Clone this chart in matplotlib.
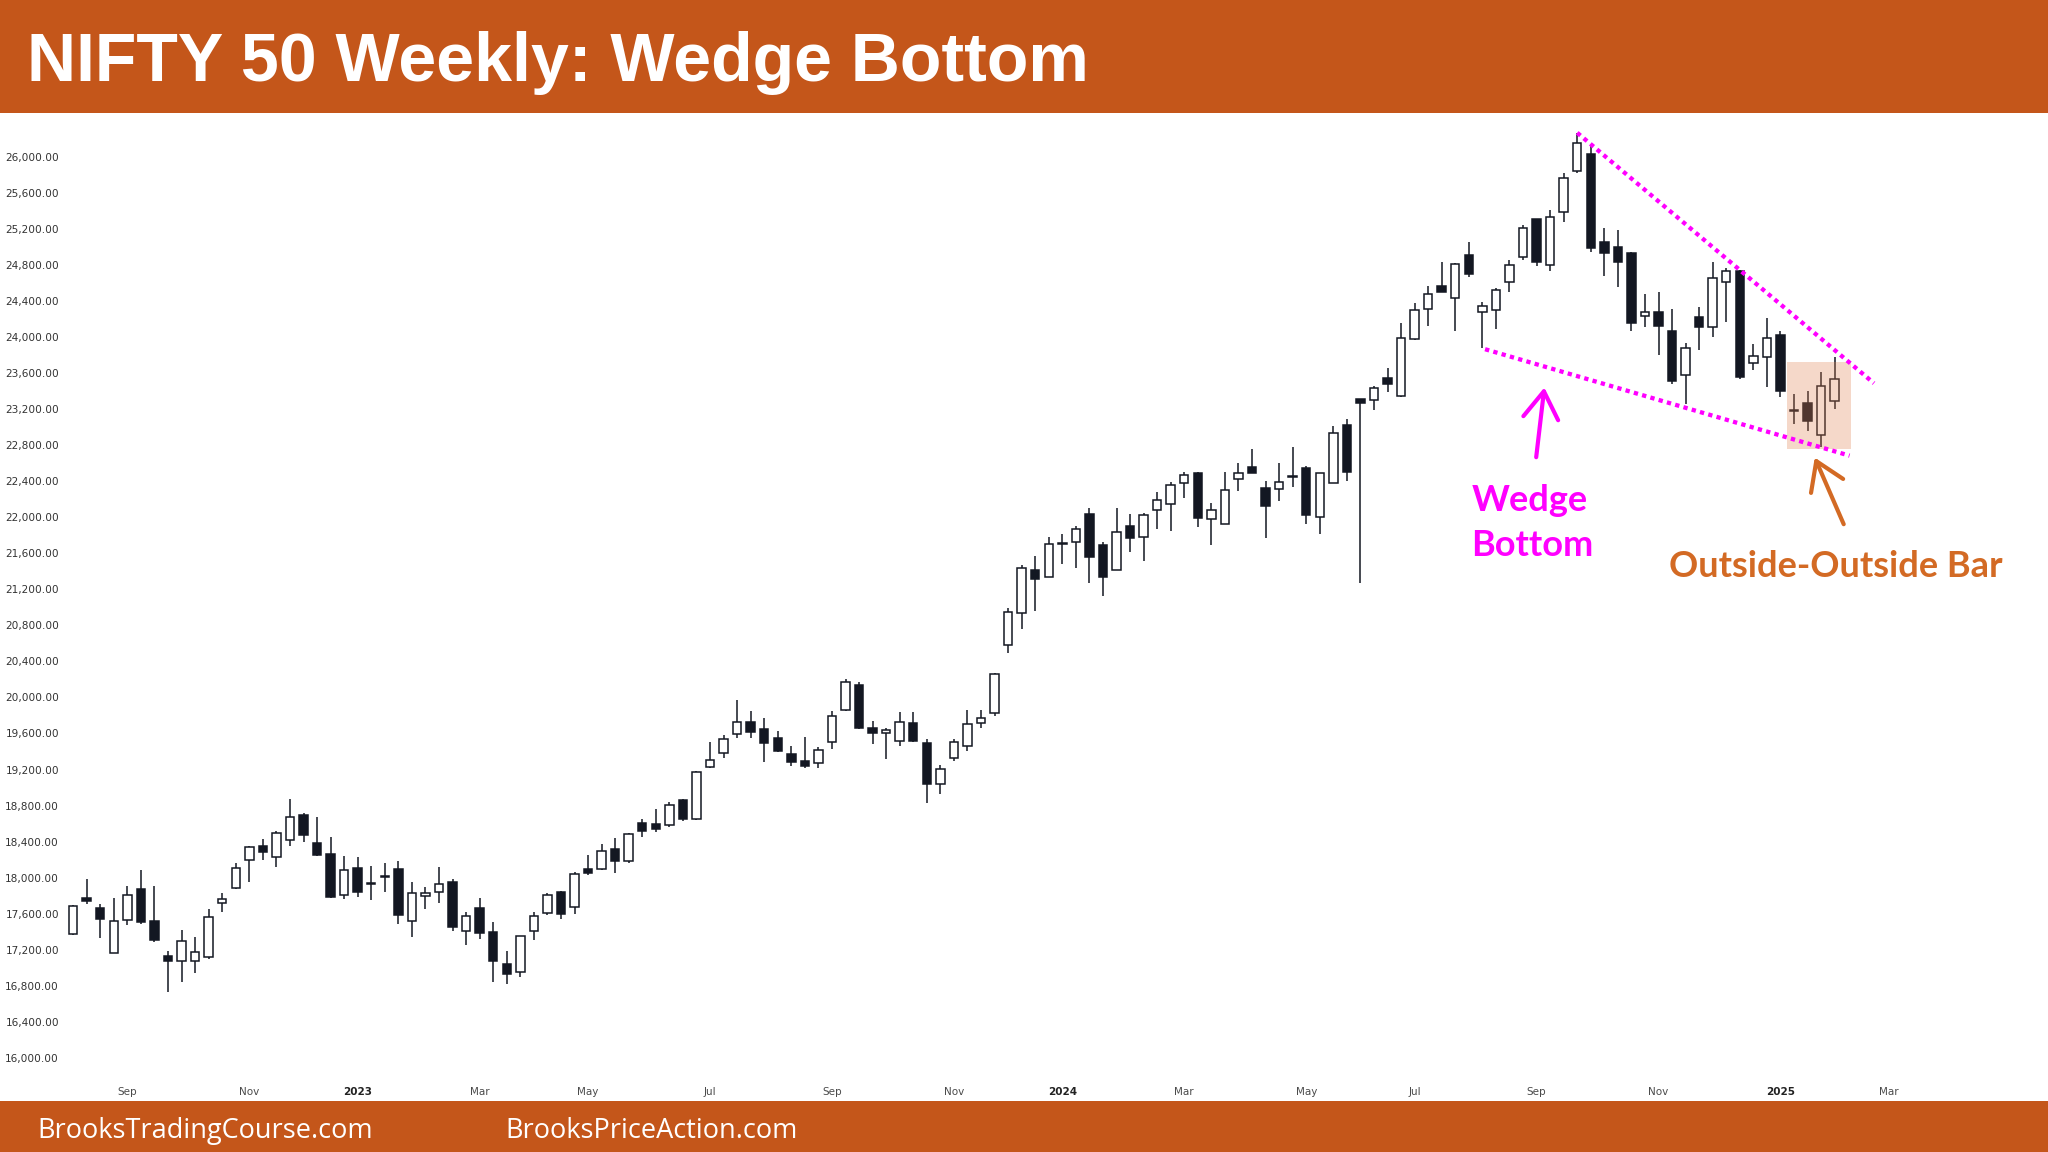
import matplotlib
matplotlib.use("Agg")
import matplotlib.pyplot as plt
import matplotlib.patches as mpatches
import numpy as np
import pandas as pd

# ---- data: NIFTY 50 weekly bars, first bar = week of 2022-08-08 ----
start_date = "2022-08-08"

opens = [17375, 17778, 17660, 17168, 17530, 17871, 17519, 17135, 17075, 17075,
         17124, 17715, 17889, 18193, 18355, 18226, 18414, 18699, 18381, 18267,
         17808, 18111, 17941, 18008, 18100, 17516, 17800, 17845, 17948, 17411,
         17659, 17400, 17042, 16957, 17408, 17611, 17844, 17678, 18100, 18092,
         18318, 18181, 18603, 18592, 18580, 18858, 18654, 19228, 19379, 19590,
         19731, 19646, 19553, 19368, 19298, 19269, 19502, 19861, 20138, 19661,
         19602, 19517, 19716, 19498, 19036, 19324, 19461, 19713, 19824, 20582,
         20933, 21414, 21340, 21700, 21729, 22032, 21691, 21414, 21902, 21776,
         22080, 22146, 22376, 22494, 21976, 21924, 22424, 22553, 22320, 22309,
         22448, 22542, 22006, 22383, 23019, 23311, 23300, 23540, 23348, 23973,
         24310, 24565, 24428, 24909, 24273, 24299, 24613, 24883, 25308, 24798,
         25382, 25841, 26030, 25049, 24994, 24927, 24232, 24280, 24066, 23577,
         24225, 24114, 24614, 24732, 23715, 23774, 24022, 23180, 23264, 22912,
         23293]
highs = [17700, 17982, 17708, 17771, 17908, 18085, 17908, 17186, 17420, 17338,
         17649, 17826, 18167, 18352, 18426, 18522, 18873, 18714, 18677, 18448,
         18241, 18229, 18130, 18159, 18189, 17952, 17893, 18115, 17989, 17622,
         17778, 17511, 17186, 17356, 17622, 17826, 17850, 18066, 18251, 18369,
         18440, 18492, 18647, 18758, 18843, 18869, 19183, 19509, 19583, 19971,
         19849, 19775, 19627, 19463, 19564, 19446, 19850, 20205, 20168, 19742,
         19657, 19835, 19835, 19535, 19250, 19535, 19861, 19861, 20275, 20989,
         21470, 21570, 21777, 21810, 21900, 22098, 21728, 22098, 22035, 22043,
         22279, 22394, 22505, 22505, 22161, 22498, 22605, 22753, 22405, 22605,
         22775, 22568, 22494, 23012, 23086, 23315, 23460, 23651, 24151, 24380,
         24565, 24835, 24824, 25057, 24391, 24546, 24853, 25242, 25310, 25408,
         25823, 26266, 26130, 25205, 25186, 24946, 24476, 24502, 24306, 23936,
         24336, 24835, 24762, 24743, 23918, 24207, 24066, 23367, 23404, 23615,
         23781]
lows = [17360, 17708, 17334, 17161, 17471, 17486, 17290, 16735, 16839, 16939,
        17098, 17623, 17875, 17956, 18196, 18122, 18355, 18400, 18245, 17775,
        17763, 17782, 17752, 17845, 17482, 17345, 17649, 17715, 17412, 17252,
        17319, 16846, 16820, 16901, 17308, 17582, 17537, 17596, 18029, 18085,
        18048, 18166, 18455, 18510, 18558, 18632, 18640, 19220, 19328, 19553,
        19550, 19283, 19398, 19239, 19215, 19213, 19424, 19855, 19650, 19480,
        19317, 19465, 19502, 18832, 18925, 19295, 19406, 19657, 19798, 20490,
        20760, 20959, 21335, 21485, 21435, 21273, 21125, 21410, 21617, 21517,
        21869, 21847, 22209, 21887, 21691, 21920, 22294, 22490, 21765, 22180,
        22331, 21924, 21810, 22380, 22402, 21273, 23189, 23392, 23329, 23966,
        24121, 24495, 24066, 24668, 23873, 24084, 24502, 24853, 24787, 24735,
        25271, 25823, 24946, 24676, 24550, 24066, 24114, 23799, 23474, 23255,
        23855, 24003, 24170, 23530, 23634, 23449, 23338, 23034, 22960, 22775,
        23201]
closes = [17686, 17741, 17545, 17519, 17812, 17505, 17308, 17075, 17301, 17172,
          17560, 17767, 18104, 18337, 18285, 18500, 18670, 18477, 18252, 17782,
          18089, 17845, 17934, 18015, 17586, 17834, 17834, 17930, 17453, 17578,
          17389, 17079, 16927, 17349, 17574, 17811, 17596, 18040, 18055, 18296,
          18181, 18484, 18521, 18540, 18810, 18647, 19169, 19309, 19542, 19731,
          19620, 19498, 19405, 19287, 19242, 19417, 19798, 20168, 19657, 19609,
          19639, 19731, 19517, 19036, 19206, 19509, 19705, 19776, 20256, 20952,
          21440, 21318, 21703, 21705, 21867, 21555, 21333, 21832, 21765, 22020,
          22191, 22357, 22468, 21995, 22080, 22302, 22494, 22494, 22124, 22394,
          22452, 22024, 22487, 22938, 22505, 23263, 23439, 23474, 23984, 24299,
          24472, 24502, 24809, 24694, 24343, 24520, 24798, 25205, 24831, 25327,
          25760, 26155, 24983, 24935, 24835, 24158, 24273, 24125, 23511, 23873,
          24114, 24657, 24736, 23560, 23789, 23985, 23400, 23184, 23068, 23460,
          23530]

price_ticks = list(range(16000, 26001, 400))
tick_months = ["2022-09", "2022-11", "2023-01", "2023-03", "2023-05", "2023-07",
               "2023-09", "2023-11", "2024-01", "2024-03", "2024-05", "2024-07",
               "2024-09", "2024-11", "2025-01", "2025-03"]

# wedge anchors (bar index): upper through two highs, lower through two lows
wedge_upper = (111, 123)
wedge_lower = (104, 129)
# outside-outside highlight box (bar index range, price range)
box_x = (126.5, 131.2)
box_y = (22753, 23719)

# ---- style ----
BANNER = "#C4561A"
ANNOT_ORANGE = "#D36A24"
MAGENTA = "#FF00FF"
DARK = "#131722"

W, H = 2048, 1152
fig = plt.figure(figsize=(W / 100, H / 100), dpi=100)
fig.patch.set_facecolor("white")

# chart axes in pixel layout
px_left, px_top, px_bottom = 64, 115, 1080
ax = fig.add_axes([px_left / W, 1 - px_bottom / H, 1 - px_left / W, (px_bottom - px_top) / H])

bar_px = 13.55
x0_px = 73.15
ax.set_xlim((px_left - x0_px) / bar_px, (W - x0_px) / bar_px)
ax.set_ylim(15755, 26463)

o = np.array(opens, dtype=float)
h = np.array(highs, dtype=float)
l = np.array(lows, dtype=float)
c = np.array(closes, dtype=float)
k = np.arange(len(o))
up = c >= o

ax.vlines(k, l, h, color=DARK, lw=1.1, zorder=2)
body_lo = np.minimum(o, c)
body_h = np.maximum(np.abs(c - o), 10)
ax.bar(k, body_h, bottom=body_lo, width=0.62,
       color=["white" if u else DARK for u in up],
       edgecolor=DARK, linewidth=1.1, zorder=3)

# wedge lines
def wedge(idx, vals, x_from, x_to):
    i0, i1 = idx
    slope = (vals[i1] - vals[i0]) / (i1 - i0)
    xs = np.array([x_from, x_to])
    return xs, vals[i0] + slope * (xs - i0)

dots = dict(color=MAGENTA, lw=3.1, ls=(0, (1, 1)), dash_capstyle="butt", zorder=5)
xs, ys = wedge(wedge_upper, h, 111, 132.9)
ax.plot(xs, ys, **dots)
xs, ys = wedge(wedge_lower, l, 104.2, 131.1)
ax.plot(xs, ys, **dots)

# highlight box over the last four bars
ax.add_patch(mpatches.Rectangle((box_x[0], box_y[0]), box_x[1] - box_x[0], box_y[1] - box_y[0],
                                facecolor="#E0814E", alpha=0.3, lw=0, zorder=4))

# annotations
arrow_style = "->,head_length=0.65,head_width=0.42"
ax.annotate("", xy=(108.6, 23470), xytext=(107.95, 22635),
            arrowprops=dict(arrowstyle=arrow_style, color=MAGENTA, lw=3.0, mutation_scale=30),
            zorder=6)
ax.text(103.2, 21934, "Wedge\nBottom", color=MAGENTA, fontsize=26, fontweight="bold",
        family="Lato", ha="left", va="center", linespacing=1.45, zorder=6)

ax.annotate("", xy=(128.45, 22690), xytext=(130.75, 21894),
            arrowprops=dict(arrowstyle=arrow_style, color=ANNOT_ORANGE, lw=3.0, mutation_scale=30),
            zorder=6)
ax.text(117.8, 21448, "Outside-Outside Bar", color=ANNOT_ORANGE, fontsize=26,
        fontweight="bold", family="Lato", ha="left", va="center", zorder=6)

# axes ticks
ax.set_yticks(price_ticks)
ax.set_yticklabels([f"{p:,.2f}" for p in price_ticks])
ax.tick_params(axis="y", length=0, pad=3.6, labelsize=7.6, labelcolor="#333333")

weeks = pd.date_range(start_date, periods=160, freq="W-MON")
xt, xl, bold = [], [], []
for m in tick_months:
    per = pd.Period(m)
    idx = np.where((weeks.year == per.year) & (weeks.month == per.month))[0][0]
    xt.append(idx)
    xl.append(str(per.year) if per.month == 1 else per.strftime("%b"))
    bold.append(per.month == 1)
ax.set_xticks(xt)
ax.set_xticklabels(xl)
ax.tick_params(axis="x", length=0, pad=5, labelsize=7.5, labelcolor="#4a4a4a")
for lab, b in zip(ax.get_xticklabels(), bold):
    if b:
        lab.set_fontweight("bold")
        lab.set_color("#222222")

for s in ax.spines.values():
    s.set_visible(False)
ax.set_facecolor("white")

# banners
fig.patches.append(mpatches.Rectangle((0, 1 - 113 / H), 1, 113 / H, transform=fig.transFigure,
                                      facecolor=BANNER, lw=0, zorder=0))
fig.patches.append(mpatches.Rectangle((0, 0), 1, 51 / H, transform=fig.transFigure,
                                      facecolor=BANNER, lw=0, zorder=0))
fig.text(27 / W, 1 - 81 / H, "NIFTY 50 Weekly: Wedge Bottom", color="white", fontsize=49,
         fontweight="bold", family="Liberation Sans", ha="left", va="baseline")
fig.text(37 / W, 1 - 1131 / H, "BrooksTradingCourse.com", color="white", fontsize=19.5,
         family="Open Sans", ha="left", va="center")
fig.text(505 / W, 1 - 1131 / H, "BrooksPriceAction.com", color="white", fontsize=19.5,
         family="Open Sans", ha="left", va="center")

fig.savefig("out.png", dpi=100, facecolor="white")
